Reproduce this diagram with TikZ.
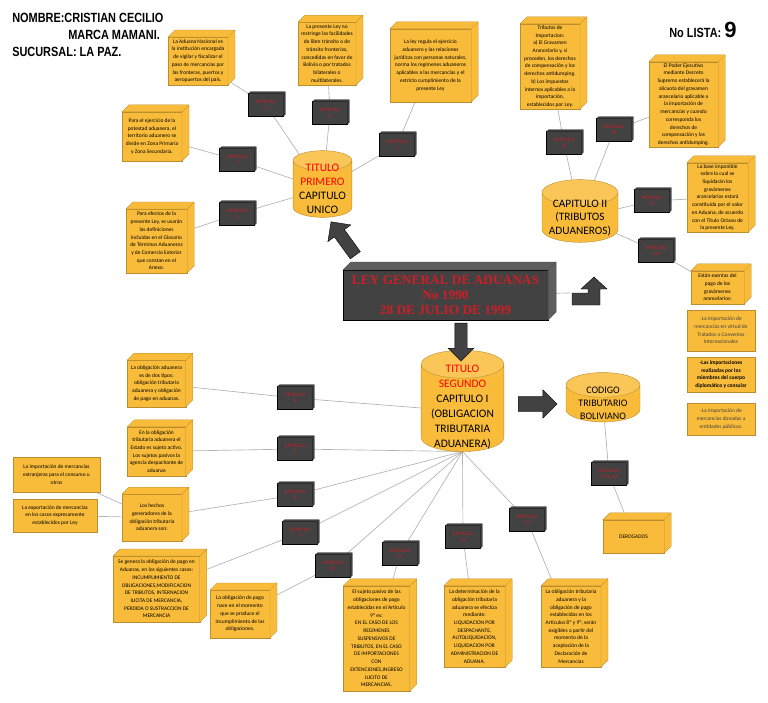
\documentclass[tikz,border=0pt]{standalone}
\usepackage{fontspec}
\usepackage{graphicx}
\setmainfont{Carlito}
\newfontfamily\headfont{Liberation Sans}
\newfontfamily\lawfont{Liberation Serif}
\usepackage{tikz}
\usetikzlibrary{shapes.geometric, shapes.arrows, backgrounds}
\definecolor{boxgold}{RGB}{249,188,58}
\definecolor{artgrey}{RGB}{66,66,66}
\definecolor{artred}{RGB}{205,30,40}
\definecolor{linkgrey}{RGB}{178,178,178}

% caras superior y lateral de una caja 3D
\newcommand{\cubeside}[3]{%
  \filldraw[fill=#3, draw=#3!75!black, line width=0.2pt, line join=round]
    (#1.north west) -- ++(#2,-#2) -- ([shift={(#2,-#2)}]#1.north east)
    -- ([shift={(#2,-#2)}]#1.south east) -- (#1.south east) -- (#1.north east) -- cycle
    (#1.north east) -- ++(#2,-#2);
}

\begin{document}
\begin{tikzpicture}[x=0.75pt, y=-0.75pt,
  yb/.style 2 args={draw=boxgold!75!black, fill=boxgold, line width=0.2pt, minimum width=#1, minimum height=#2, inner sep=1pt, outer sep=0pt, align=center, font=\fontsize{4.1}{5.8}\selectfont},
  art/.style={draw=black, fill=artgrey, minimum width=26pt, minimum height=17pt, inner sep=0pt, outer sep=0pt, align=center, text=artred, font=\fontsize{3.8}{4.6}\selectfont},
  drum/.style 2 args={cylinder, shape border rotate=90, aspect=0.35, draw=boxgold!75!black, line width=0.3pt, cylinder uses custom fill, cylinder body fill=boxgold, cylinder end fill=boxgold!85!white, minimum width=#1, minimum height=#2, inner sep=0pt, outer sep=0pt},
  drumtext/.style={inner sep=0pt, align=center},
  blockarrow/.style={single arrow, fill=artgrey, draw=black, line width=0.3pt, inner xsep=0pt, inner ysep=4.5pt},
  link/.style={draw=linkgrey, line width=0.5pt},
]
\useasboundingbox (0,0) rectangle (768,703);

% Encabezado
\node[anchor=base west, inner sep=0pt, font=\headfont\bfseries\fontsize{10}{11}\selectfont] (nombre) at (12,22) {\scalebox{0.82}[1]{NOMBRE:CRISTIAN CECILIO}};
\node[anchor=base west, inner sep=0pt, font=\headfont\bfseries\fontsize{10}{11}\selectfont] (apellido) at (68,39) {\scalebox{0.82}[1]{MARCA MAMANI.}};
\node[anchor=base west, inner sep=0pt, font=\headfont\bfseries\fontsize{10}{11}\selectfont] (sucursal) at (12,56) {\scalebox{0.82}[1]{SUCURSAL: LA PAZ.}};
\node[anchor=base west, inner sep=0pt, font=\headfont\bfseries\fontsize{10}{11}\selectfont] (lista) at (669,37) {\scalebox{0.82}[1]{No LISTA: }{\fontsize{16.5}{17}\selectfont 9}};

% Ley
\node[draw=black, fill=artgrey, minimum width=154pt, minimum height=37.5pt, inner sep=0pt, outer sep=0pt, align=center, text=artred, font=\lawfont\bfseries\fontsize{10}{11.4}\selectfont] (ley) at (445.5,295) {LEY GENERAL DE ADUANAS\\No 1990\\28 DE JULIO DE 1999};
\cubeside{ley}{8}{artgrey!85!white}
\coordinate (codo) at (570,293);

% Titulo primero
\node[drum={44pt}{50pt}] (tp) at (322.5,189) {\rule{42pt}{0pt}};
\node[drumtext, font=\fontsize{8.6}{10.5}\selectfont] (tptext) at (322.5,189) {\textcolor{red}{TITULO}\\\textcolor{red}{PRIMERO}\\CAPITULO\\UNICO};

\node[art] (a1) at (397,145) {ARTICULO\\1};
\node[art] (a2) at (330,113) {ARTICULO\\2};
\node[art] (a3) at (266,105) {ARTICULO\\3};
\node[art] (a4) at (237,160) {ARTICULO\\4};
\node[art] (a5) at (237,214) {ARTICULO\\5};

\node[yb={61pt}{55pt}] (y1) at (430.5,65.5) {La ley regula el ejercicio\\aduanero  y las relaciones\\jurídicas con personas naturales,\\norma los regímenes aduaneros\\aplicables a las mercancías y el\\estricto cumplimiento de la\\presente Ley};
\node[yb={43.5pt}{47pt}] (y2) at (327,53.5) {La presente Ley no\\restringe las facilidades\\de libre tránsito o de\\tránsito fronterizo,\\concedidas en favor de\\Bolivia o por tratados\\bilaterales o\\multilaterales.};
\node[yb={45pt}{36pt}] (y3) at (198,61) {La Aduana Nacional es\\la institución encargada\\de vigilar y fiscalizar el\\paso de mercancías por\\las fronteras, puertos y\\aeropuertos del país.};
\node[yb={45pt}{37pt}] (y4) at (152,136.5) {Para el ejercicio de la\\potestad aduanera, el\\territorio aduanero se\\divide en Zona Primaria\\y Zona Secundaria.};
\node[yb={46pt}{48pt}] (y5) at (156.5,241) {Para efectos de la\\presente Ley, se usarán\\las definiciones\\incluidas en el Glosario\\de Términos Aduaneros\\y de Comercio Exterior\\que constan en el\\Anexo.};

% Capitulo II
\node[drum={57pt}{47pt}] (c2) at (580,217.5) {\rule{55pt}{0pt}};
\node[drumtext, font=\fontsize{8.5}{10.2}\selectfont] (c2text) at (580,218) {CAPITULO II\\(TRIBUTOS\\ADUANEROS)};

\node[art] (a25) at (564,143) {ARTICULO\\25};
\node[art] (a26) at (614,130) {ARTICULO\\26};
\node[art] (a27) at (652,201) {ARTICULO\\27};
\node[art] (a28) at (656,251) {ARTICULO\\28};

\node[yb={45pt}{64pt}] (y25) at (550,66.5) {Tributos de\\Importacion:\\a) El Gravamen\\Arancelario y, si\\proceden, los derechos\\de compensación y los\\derechos antidumping.\\b) Los impuestos\\internos aplicables a la\\importación,\\establecidos por Ley.};
\node[yb={52pt}{64pt}] (y26) at (683.5,104.5) {El Poder Ejecutivo\\mediante Decreto\\Supremo establecerá la\\alícuota del gravamen\\arancelario aplicable a\\la importación de\\mercancías y cuando\\corresponda los\\derechos de\\compensación y los\\derechos antidumping.};
\node[yb={46pt}{52pt}] (y27) at (717.5,197.5) {La base imponible\\sobre la cual se\\liquidarán los\\gravámenes\\arancelarios estará\\constituida por el valor\\en Aduana, de acuerdo\\con el Título Octavo de\\la presente Ley.};
\node[yb={40pt}{25pt}] (y28) at (717.5,287.5) {Están exentas del\\pago de los\\gravámenes\\arancelarios:};
\node[yb={51pt}{31pt}, text=black!75] (ex1) at (721,330.5) {-La importación de\\mercancías en virtud de\\Tratados  o Convenios\\Internacionales};
\node[yb={51pt}{26pt}, font=\fontsize{4.1}{5.8}\selectfont\bfseries] (ex2) at (721,374.5) {-Las importaciones\\realizadas por los\\miembros del cuerpo\\diplomático y consular};
\node[yb={51pt}{24pt}, text=black!75] (ex3) at (721,419) {-La importación de\\mercancías donadas a\\entidades públicas.};

% Titulo segundo
\node[drum={62pt}{76pt}] (ts) at (462.5,408) {\rule{60pt}{0pt}};
\node[drumtext, font=\fontsize{8.6}{11.2}\selectfont] (tstext) at (462.5,407) {\textcolor{red}{TITULO}\\\textcolor{red}{SEGUNDO}\\CAPITULO I\\(OBLIGACION\\TRIBUTARIA\\ADUANERA)};

\node[art] (a6) at (295,398) {ARTICULO\\6};
\node[art] (a7) at (295,449) {ARTICULO\\7};
\node[art] (a8) at (295,495) {ARTICULO\\8};
\node[art] (a9) at (300,533) {ARTICULO\\9};
\node[art] (a10) at (333,566) {ARTICULO\\10};
\node[art] (a11) at (400,554) {ARTICULO\\11};
\node[art] (a12) at (463,537) {ARTICULO\\12};
\node[art] (a13) at (527,520) {ARTICULO\\13};

\node[yb={44pt}{35pt}] (y6) at (156.5,383.5) {La obligación aduanera\\es de dos tipos:\\obligación tributaria\\aduanera y obligación\\de pago en aduanas.};
\node[yb={44pt}{37pt}] (y7) at (156.5,451.5) {En la obligación\\tributaria aduanera el\\Estado es sujeto activo.\\Los sujetos pasivos la\\agencia despachante de\\aduanas};
\node[yb={45pt}{35pt}] (y8) at (152,517.5) {Los hechos\\generadores de la\\obligación tributaria\\aduanera son:};
\node[yb={65pt}{26pt}] (imp) at (56.5,474.5) {La importación de mercancías\\extranjeras para el consumo u\\otros};
\node[yb={63pt}{25pt}] (exp) at (55,515.5) {La exportación de mercancías\\en los casos expresamente\\establecidos por Ley};
\node[yb={65pt}{49.5pt}] (y9) at (156.5,589) {Se genera la obligación de pago en\\Aduanas, en los siguientes casos:\\INCUMPLIMIENTO DE\\OBLIGACIONES,MODIFICACION\\DE TRIBUTOS, INTERNACION\\ILICITA DE MERCANCIA,\\PERDIDA O SUSTRACCION DE\\MERCANCIA};
\node[yb={45pt}{36pt}] (y10) at (240,614) {La obligación de pago\\nace en el momento\\que se produce el\\incumplimiento de las\\obligaciones.};
\node[yb={50pt}{79pt}] (y11) at (376.5,638.5) {El sujeto pasivo de las\\obligaciones de pago\\establecidas en el Artículo\\9º es:\\EN EL CASO DE LOS\\REGIMENES\\SUSPENSIVOS DE\\TRIBUTOS, EN EL CASO\\DE IMPORTACIONES\\CON\\EXTENCIONES,INGRESO\\ILICITO DE\\MERCANCIAS.};
\node[yb={46pt}{61pt}] (y12) at (474.5,626.5) {La determinación de la\\obligación tributaria\\aduanera se efectúa\\mediante:\\LIQUIDACION POR\\DESPACHANTE,\\AUTOLIQUIDACION,\\LIQUIDACION POR\\ADMINISTRACION DE\\ADUANA.};
\node[yb={45pt}{61pt}] (y13) at (571,626.5) {La obligación tributaria\\aduanera y la\\obligación de pago\\establecidas en los\\Artículos 8º y 9º, serán\\exigibles a partir del\\momento de la\\aceptación de la\\Declaración de\\Mercancías};

% Codigo tributario
\node[drum={55.5pt}{37pt}] (cod) at (603,403.5) {\rule{53pt}{0pt}};
\node[drumtext, font=\fontsize{7.5}{9.8}\selectfont] (codtext) at (603,403) {CODIGO\\TRIBUTARIO\\BOLIVIANO};
\node[art] (a14) at (609,474) {ARTICULO\\14 AL 24};
\node[yb={46pt}{25pt}] (der) at (633.5,536.5) {DEROGADOS};

% caras 3D
\foreach \n in {y1,y2,y3,y4,y5,y25,y26,y27,y28,y6,y7,y8,y9,y10,y11,y12,y13,der}
  \cubeside{\n}{7}{boxgold};
\foreach \n in {a1,a2,a3,a4,a5,a6,a7,a8,a9,a10,a11,a12,a13,a14,a25,a26,a27,a28}
  \cubeside{\n}{2}{artgrey};

% Flechas
\node[blockarrow, rotate=-90, minimum height=28.5pt, minimum width=19pt, single arrow head extend=5pt] (bajar) at (461,339) {};
\node[blockarrow, rotate=126, minimum height=31pt, minimum width=21pt, single arrow head extend=6pt] (subir) at (345,241) {};
\node[blockarrow, inner ysep=5.5pt, minimum height=29pt, minimum width=21pt, single arrow head extend=5pt] (codflecha) at (534,404) {};
\filldraw[fill=artgrey, draw=black, line width=0.3pt] (572,293) -- (588,293) -- (588,289) -- (581,289) -- (594,277) -- (607,289) -- (600,289) -- (600,305) -- (572,305) -- cycle;

% Conexiones
\begin{scope}[on background layer]
  \foreach \a/\b in {1/1,2/2,3/3,4/4,5/5}
    \draw[link] (tp) -- (a\a) -- (y\b);
  \foreach \a in {25,26,27,28}
    \draw[link] (c2) -- (a\a) -- (y\a);
  \draw[link] (ts.west) -- (a6) -- (y6);
  \foreach \a in {7,8,9,10,11,12,13}
    \draw[link] (ts.south) -- (a\a) -- (y\a);
  \draw[link] (y8) -- (imp);
  \draw[link] (y8) -- (exp);
  \draw[link] (cod) -- (a14) -- (der);
  \draw[link] (ley) -- (codo);
\end{scope}

\end{tikzpicture}
\end{document}
